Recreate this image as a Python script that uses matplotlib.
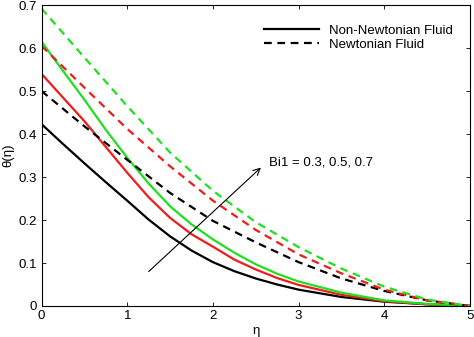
import matplotlib
matplotlib.use('Agg')
import matplotlib.pyplot as plt

# theta(eta) profiles
# non-newtonian (solid) on a finer grid, Bi1 = 0.3, 0.5, 0.7
eta_s = [0, 0.25, 0.5, 0.75, 1, 1.25, 1.5, 1.75, 2, 2.25, 2.5, 2.75, 3, 3.5, 4, 4.5, 5]
nn_03 = [0.423, 0.377, 0.332, 0.288, 0.245, 0.201, 0.162, 0.129, 0.102, 0.081, 0.064, 0.050, 0.038,
         0.021, 0.010, 0.004, 0]
nn_05 = [0.540, 0.485, 0.430, 0.370, 0.310, 0.253, 0.205, 0.167, 0.138, 0.108, 0.085, 0.065, 0.049,
         0.026, 0.011, 0.004, 0]
nn_07 = [0.615, 0.547, 0.480, 0.410, 0.345, 0.285, 0.232, 0.190, 0.155, 0.124, 0.097, 0.075, 0.057,
         0.031, 0.013, 0.005, 0]

# newtonian (dashed), Bi1 = 0.3, 0.5, 0.7
eta_d = [0, 0.5, 1, 1.5, 2, 2.5, 3, 3.5, 4, 4.5, 5]
nw_03 = [0.500, 0.418, 0.340, 0.263, 0.198, 0.148, 0.102, 0.064, 0.035, 0.013, 0]
nw_05 = [0.605, 0.508, 0.412, 0.325, 0.245, 0.177, 0.120, 0.076, 0.038, 0.013, 0]
nw_07 = [0.692, 0.578, 0.465, 0.357, 0.268, 0.195, 0.137, 0.087, 0.045, 0.015, 0]

colors = ['black', '#ee1c1c', '#1ee01e']
legend_labels = ['Non-Newtonian Fluid', 'Newtonian Fluid']
bi_text = 'Bi1 = 0.3, 0.5, 0.7'

plt.rcParams['font.family'] = ['Liberation Sans', 'DejaVu Sans']

fig = plt.figure(figsize=(4.74, 3.37), dpi=100)
ax = fig.add_axes([0.0876, 0.092, 0.904, 0.893])

lw = 1.6
for ys, c in zip([nn_03, nn_05, nn_07], colors):
    ax.plot(eta_s, ys, color=c, lw=lw)
for ys, c in zip([nw_03, nw_05, nw_07], colors):
    ax.plot(eta_d, ys, color=c, lw=lw, dashes=(3.5, 2.5))

# legend proxies in black
h1, = ax.plot([], [], color='black', lw=lw)
h2, = ax.plot([], [], color='black', lw=lw, dashes=(3.5, 2.5))
ax.legend([h1, h2], legend_labels, loc='upper left', bbox_to_anchor=(0.519, 0.935),
          frameon=False, fontsize=9.5, handlelength=4.2, handletextpad=0.75,
          borderpad=0, borderaxespad=0, labelspacing=0.15)

ax.annotate('', xy=(2.56, 0.322), xytext=(1.25, 0.08),
            arrowprops=dict(arrowstyle='->', lw=0.8, color='black', mutation_scale=12,
                            shrinkA=0, shrinkB=0))
ax.text(2.65, 0.333, bi_text, fontsize=9.5, va='center', ha='left')

ax.set_xlim(0, 5)
ax.set_ylim(0, 0.7)
ax.set_xticks([0, 1, 2, 3, 4, 5])
ax.set_yticks([0, 0.1, 0.2, 0.3, 0.4, 0.5, 0.6, 0.7])
ax.set_yticklabels(['0', '0.1', '0.2', '0.3', '0.4', '0.5', '0.6', '0.7'])
ax.tick_params(direction='in', top=True, right=True, length=3, width=0.6,
               labelsize=9.5, pad=3)
for s in ax.spines.values():
    s.set_linewidth(0.8)
ax.set_xlabel('η', fontsize=9.5, labelpad=2)
ax.set_ylabel('θ(η)', fontsize=9.5, labelpad=3)

fig.savefig('out.png', dpi=100)
